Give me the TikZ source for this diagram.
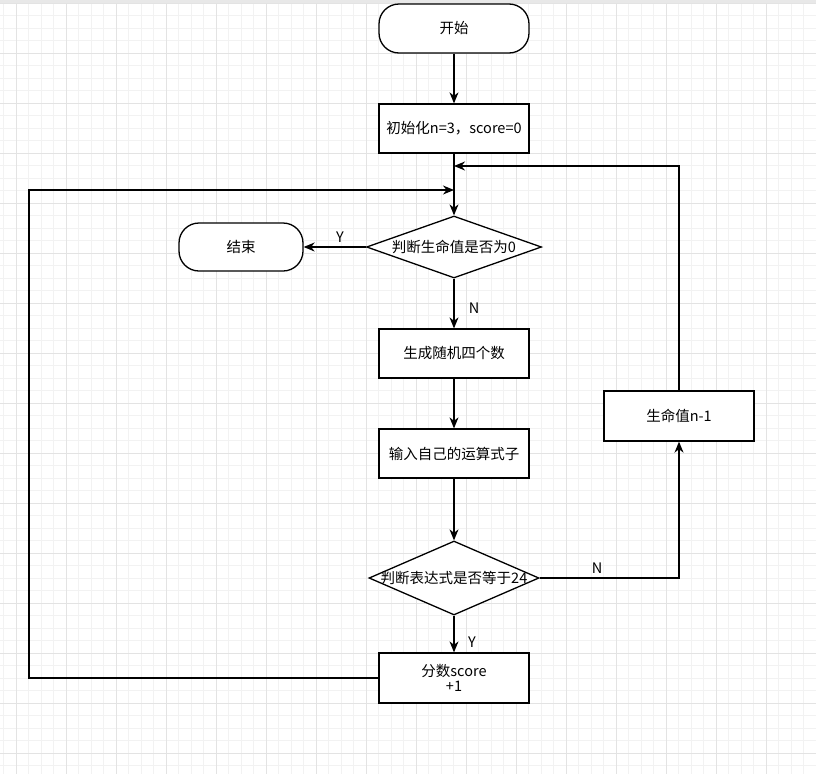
\documentclass[tikz,border=0pt]{standalone}
\usepackage{fontspec}
\setmainfont{Noto Sans CJK SC}
\usetikzlibrary{shapes.geometric,arrows.meta}
\begin{document}
\begin{tikzpicture}[x=1pt,y=-1pt,
  every node/.style={font=\fontsize{14.5}{17}\selectfont},
  box/.style={draw, line width=1.3pt, minimum width=150pt, minimum height=49pt, inner sep=0pt, fill=white},
  term/.style={box, rounded corners=20pt},
  dia/.style={draw, diamond, line width=1.3pt, inner sep=0pt, fill=white},
  arr/.style={line width=1.3pt, -{Stealth[length=11pt,width=9pt,inset=3.5pt]}},
  ln/.style={line width=1.3pt},
  lab/.style={font=\fontsize{14.5}{17}\selectfont}]
\useasboundingbox (0,0) rectangle (816,774);
\fill[white] (0,0) rectangle (816,774);
% grid
\foreach \i in {0,...,65} {\draw[color=black!5, line width=0.8pt] (3.5+12.5*\i,0) -- (3.5+12.5*\i,774);}
\foreach \i in {0,...,62} {\draw[color=black!5, line width=0.8pt] (0,3.3+12.5*\i) -- (816,3.3+12.5*\i);}
\foreach \i in {0,...,16} {\draw[color=black!11, line width=0.9pt] (16+50*\i,0) -- (16+50*\i,774);}
\foreach \i in {0,...,15} {\draw[color=black!11, line width=0.9pt] (0,3.3+50*\i) -- (816,3.3+50*\i);}
\fill[black!9] (0,0) rectangle (816,2.5);
% nodes
\node[term] (start) at (454,28.5) {开始};
\node[box] (init) at (454,128.5) {初始化n=3，score=0};
\node[dia, minimum width=175pt, minimum height=62pt] (d1) at (454,247) {};
\node (d1t) at (d1) {判断生命值是否为0};
\node[term, minimum width=124pt, minimum height=48pt] (end) at (241,247) {结束};
\node[box] (gen) at (454,353.5) {生成随机四个数};
\node[box] (input) at (454,453.5) {输入自己的运算式子};
\node[dia, minimum width=170pt, minimum height=74pt] (d2) at (454,578) {};
\node (d2t) at (d2) {判断表达式是否等于24};
\node[box, minimum height=50pt] (life) at (679,416) {生命值n-1};
\node[box, minimum height=50pt, align=center] (score) at (454,678) {分数score\\[-2pt]+1};
% coordinates
\coordinate (m1) at (454,166);
\coordinate (m2) at (454,190);
\coordinate (lc) at (29,190);
% connectors
\draw[arr] (start) -- (init);
\draw[arr] (init) -- (d1);
\draw[arr] (d1) -- (end);
\draw[arr] (d1) -- (gen);
\draw[arr] (gen) -- (input);
\draw[arr] (input) -- (d2);
\draw[arr] (d2) -- (score);
\draw[arr] (d2.east) -| (life.south);
\draw[arr] (life.north) |- (m1);
\draw[arr] (score.west) -| (lc) -- (m2);
% labels
\node[lab] (ly1) at (340,237) {Y};
\node[lab] (ln1) at (474,308) {N};
\node[lab] (ln2) at (597,568) {N};
\node[lab] (ly2) at (472,642) {Y};
\end{tikzpicture}
\end{document}
